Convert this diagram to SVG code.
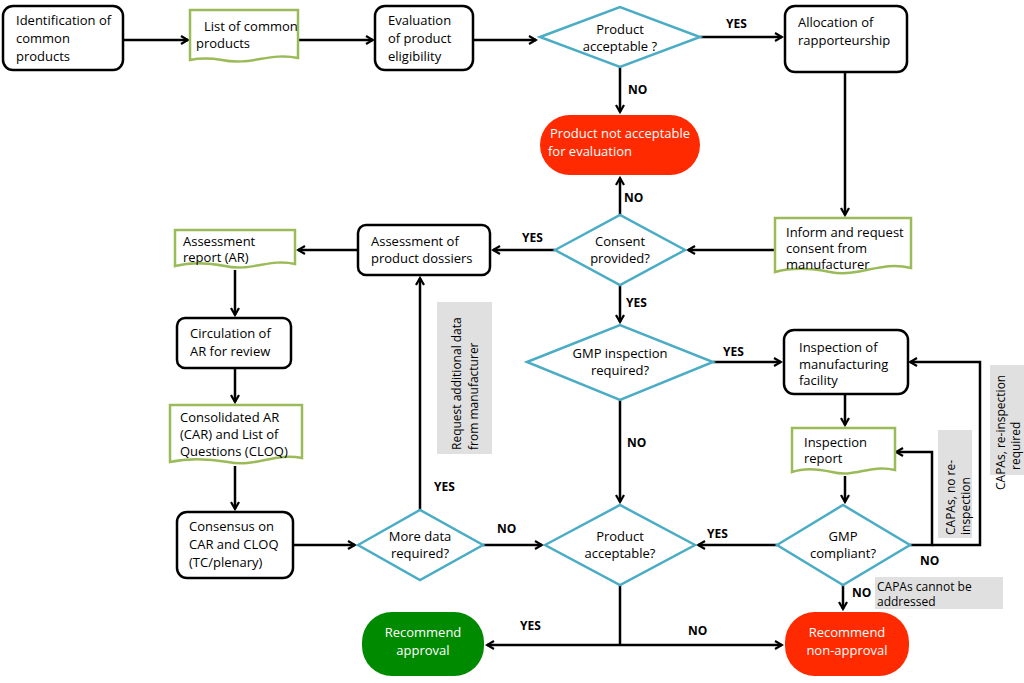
<svg xmlns="http://www.w3.org/2000/svg" width="1024" height="683" viewBox="0 0 1024 683">
<style>
text{font-family:"Open Sans","Liberation Sans",sans-serif;font-size:13px;fill:#000}
.r{fill:#fff;stroke:#000;stroke-width:2.5}
.d{fill:#fff;stroke:#9bbb59;stroke-width:2.5}
.dm{fill:#fff;stroke:#4bacc6;stroke-width:2.5}
.red{fill:#ff2a00}
.grn{fill:#008a00}
.w{fill:#fff;text-anchor:middle}
.c{text-anchor:middle}
.lb{font-weight:bold;font-size:12px}
.g{fill:#e0e0e0}
#conn path{fill:none;stroke:#000;stroke-width:2.5;marker-end:url(#a)}
#conn path.n{marker-end:none}
</style>
<defs><marker id="a" markerWidth="10" markerHeight="10" refX="8" refY="5" orient="auto" markerUnits="userSpaceOnUse"><path d="M1,1 L8,5 L1,9" fill="none" stroke="#000" stroke-width="2.2"/></marker></defs>
<rect class="g" x="437" y="302" width="55" height="152"/>
<rect class="g" x="938" y="430" width="34" height="108"/>
<rect class="g" x="990" y="365" width="34" height="110"/>
<rect class="g" x="875" y="577" width="128" height="32"/>
<g id="conn">
<path d="M123,40H188"/><path d="M298,40H373"/><path d="M473,40H536"/>
<path d="M700,37H782"/><path d="M620,67V112"/><path d="M845,72V215"/>
<path d="M775,250H688"/><path d="M620,215V178"/><path d="M555,250H493"/>
<path d="M358,250H298"/><path d="M235,270V315"/><path d="M235,368V402"/>
<path d="M235,466V509"/><path d="M293,545L355,545"/><path d="M483,545H542"/>
<path d="M420,510V278"/><path d="M620,285V322"/><path d="M713,362H781"/>
<path d="M620,400V502"/><path d="M845,394V425"/><path d="M845,476V502"/>
<path d="M777,545H698"/><path d="M843,585V609"/>
<path d="M910,545H932V452H896"/><path d="M932,545H980V362H910"/>
<path class="n" d="M620,585V645"/><path d="M620,645H487"/><path d="M620,645H782"/>
</g>
<g id="n1"><rect class="r" x="3" y="6" width="120" height="64" rx="10"/><text x="16" y="25">Identification of</text><text x="16" y="43">common</text><text x="16" y="61">products</text></g>
<g id="n2"><path class="d" d="M190,10H298V58C270,52 250,66 222,60C210,58 200,58 190,60Z"/><text x="204" y="31">List of common</text><text x="196" y="48">products</text></g>
<g id="n3"><rect class="r" x="375" y="6" width="98" height="64" rx="10"/><text x="388" y="25">Evaluation</text><text x="388" y="43">of product</text><text x="388" y="61">eligibility</text></g>
<g id="n4"><polygon class="dm" points="540,37 620,7 700,37 620,67"/><text class="c" x="620" y="34">Product</text><text class="c" x="620" y="51">acceptable ?</text></g>
<g id="n5"><rect class="r" x="785" y="6" width="122" height="66" rx="10"/><text x="798" y="27">Allocation of</text><text x="798" y="45">rapporteurship</text></g>
<g id="n6"><rect class="red" x="540" y="115" width="160" height="60" rx="30"/><text class="w" x="620" y="138">Product not acceptable</text><text class="w" x="590" y="156" style="text-anchor:middle">for evaluation</text></g>
<g id="n7"><path class="d" d="M775,218H911V268C880,260 860,278 830,272C810,268 790,268 775,272Z"/><text x="786" y="237">Inform and request</text><text x="786" y="253">consent from</text><text x="786" y="269">manufacturer</text></g>
<g id="n8"><polygon class="dm" points="555,250 620,215 685,250 620,285"/><text class="c" x="620" y="246">Consent</text><text class="c" x="620" y="263">provided?</text></g>
<g id="n9"><rect class="r" x="358" y="225" width="132" height="50" rx="8"/><text x="371" y="246">Assessment of</text><text x="371" y="263">product dossiers</text></g>
<g id="n10"><path class="d" d="M175,230H295V264C270,258 250,272 225,266C205,262 190,262 175,266Z"/><text x="183" y="246">Assessment</text><text x="183" y="262">report (AR)</text></g>
<g id="n11"><rect class="r" x="177" y="318" width="114" height="50" rx="8"/><text x="190" y="338">Circulation of</text><text x="190" y="356">AR for review</text></g>
<g id="n12"><path class="d" d="M170,405H302V458C275,452 255,468 228,462C205,458 188,458 170,462Z"/><text x="180" y="422">Consolidated AR</text><text x="180" y="439">(CAR) and List of</text><text x="180" y="456">Questions (CLOQ)</text></g>
<g id="n13"><rect class="r" x="177" y="512" width="116" height="66" rx="10"/><text x="189" y="531">Consensus on</text><text x="189" y="549">CAR and CLOQ</text><text x="189" y="567">(TC/plenary)</text></g>
<g id="n14"><polygon class="dm" points="358,545 420,510 483,545 420,580"/><text class="c" x="420" y="541">More data</text><text class="c" x="420" y="558">required?</text></g>
<g id="n15"><polygon class="dm" points="545,545 620,505 695,545 620,585"/><text class="c" x="620" y="541">Product</text><text class="c" x="620" y="558">acceptable?</text></g>
<g id="n16"><polygon class="dm" points="527,362 620,325 713,362 620,400"/><text class="c" x="620" y="358">GMP inspection</text><text class="c" x="620" y="375">required?</text></g>
<g id="n17"><rect class="r" x="784" y="330" width="124" height="64" rx="10"/><text x="799" y="352">Inspection of</text><text x="799" y="369">manufacturing</text><text x="799" y="385">facility</text></g>
<g id="n18"><path class="d" d="M792,428H895V470C870,464 855,478 832,472C815,468 803,468 792,472Z"/><text x="804" y="447">Inspection</text><text x="804" y="463">report</text></g>
<g id="n19"><polygon class="dm" points="777,545 843,505 910,545 843,585"/><text class="c" x="843" y="541">GMP</text><text class="c" x="843" y="558">compliant?</text></g>
<g id="n20"><rect class="grn" x="362" y="612" width="122" height="64" rx="30"/><text class="w" x="423" y="637">Recommend</text><text class="w" x="423" y="655">approval</text></g>
<g id="n21"><rect class="red" x="785" y="612" width="124" height="64" rx="30"/><text class="w" x="847" y="637">Recommend</text><text class="w" x="847" y="655">non-approval</text></g>
<g id="labels">
<text class="lb" x="726" y="28">YES</text><text class="lb" x="628" y="94">NO</text>
<text class="lb" x="624" y="202">NO</text><text class="lb" x="522" y="242">YES</text>
<text class="lb" x="626" y="307">YES</text><text class="lb" x="723" y="356">YES</text>
<text class="lb" x="627" y="447">NO</text><text class="lb" x="497" y="533">NO</text>
<text class="lb" x="434" y="491">YES</text><text class="lb" x="707" y="538">YES</text>
<text class="lb" x="920" y="565">NO</text><text class="lb" x="852" y="597">NO</text>
<text class="lb" x="520" y="630">YES</text><text class="lb" x="688" y="635">NO</text>
<text x="877" y="591" style="font-size:12px">CAPAs cannot be</text><text x="877" y="606" style="font-size:12px">addressed</text>
<text transform="translate(461,450) rotate(-90)" style="font-size:12px">Request additional  data</text>
<text transform="translate(478,450) rotate(-90)" style="font-size:12px">from manufacturer</text>
<text transform="translate(955,535) rotate(-90)" style="font-size:12px">CAPAs, no re-</text>
<text transform="translate(970,535) rotate(-90)" style="font-size:12px">inspection</text>
<text transform="translate(1005,490) rotate(-90)" style="font-size:12px">CAPAs, re-inspection</text>
<text transform="translate(1020,470) rotate(-90)" style="font-size:12px">required</text>
</g>
</svg>
